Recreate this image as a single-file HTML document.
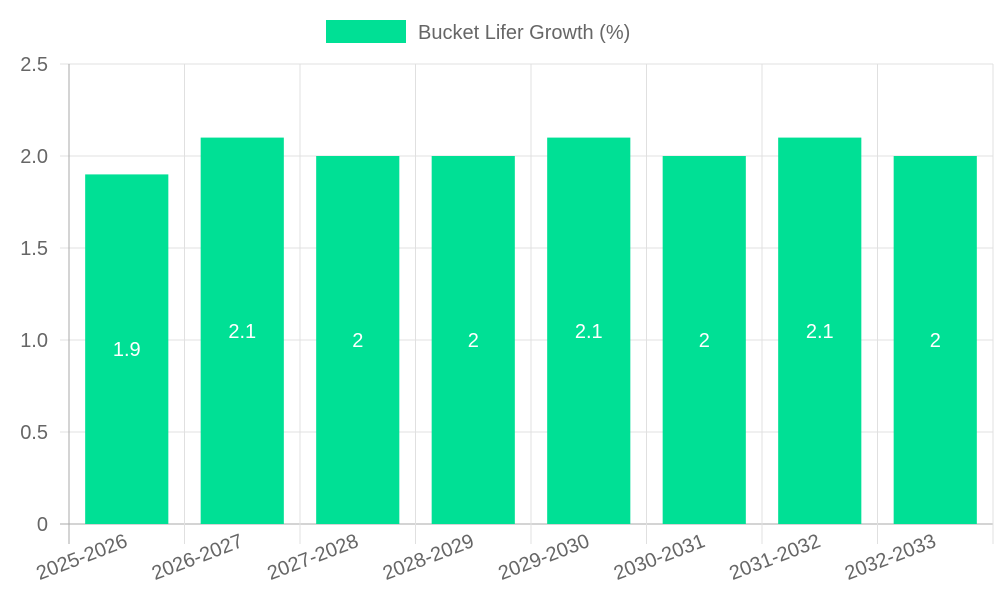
<!DOCTYPE html>
<html><head><meta charset="utf-8"><style>
body{margin:0;background:#fff;}
svg{display:block;font-family:"Liberation Sans",sans-serif;}
</style></head><body>
<svg id="chart" width="1000" height="600" viewBox="0 0 1000 600">
<g>
<rect x="326" y="20" width="80" height="23" fill="#00e095"/>
<text x="418" y="39" font-size="20" fill="#666">Bucket Lifer Growth (%)</text>
</g>
<g id="grid"></g><g id="bars"></g><g id="labels"></g>
</svg>
<script>
const categories=["2025-2026","2026-2027","2027-2028","2028-2029","2029-2030","2030-2031","2031-2032","2032-2033"];
const values=[1.9,2.1,2,2,2.1,2,2.1,2];
const yTicks=[0,0.5,1.0,1.5,2.0,2.5];
const yTickLabels=["0","0.5","1.0","1.5","2.0","2.5"];
const NS="http://www.w3.org/2000/svg";
const L=69,R=993,T=64,B=524,yMax=2.5;
const bw=(R-L)/categories.length;
const y=v=>B-(v/yMax)*(B-T);
const x=i=>L+bw*i;
function mk(tag,attrs,parent){const e=document.createElementNS(NS,tag);for(const k in attrs)e.setAttribute(k,attrs[k]);parent.appendChild(e);return e;}
const grid=document.getElementById('grid'),bars=document.getElementById('bars'),labels=document.getElementById('labels');
yTicks.forEach((t,i)=>{
 const ln=mk('line',{x1:60,x2:R,y1:y(t),y2:y(t),stroke:i==0?'#aaa':'#e0e0e0','stroke-width':1},grid);
 
 
 const tx=mk('text',{x:48,y:y(t)+7,'text-anchor':'end','font-size':20,fill:'#666'},grid);
 tx.textContent=yTickLabels[i];
 
 
});
for(let i=0;i<=categories.length;i++){
 const ln=mk('line',{x1:x(i),x2:x(i),y1:T,y2:544,stroke:i==0?'#aaa':'#e0e0e0','stroke-width':1},grid);
 
 
}
categories.forEach((c,i)=>{
 const cx=x(i)+bw/2,w=bw*0.72;
 const r=mk('rect',{x:cx-w/2,y:y(values[i]),width:w,height:B-y(values[i]),fill:'#00e095'},bars);
 
 
 const v=mk('text',{x:cx,y:(y(values[i])+B)/2+7,'text-anchor':'middle','font-size':20,fill:'#fff'},labels);
 v.textContent=String(values[i]);
 
 
 const t=mk('text',{x:cx+2,y:546,'text-anchor':'end','font-size':20,fill:'#666',transform:`rotate(-21 ${cx+2} 546)`},labels);
 t.textContent=c;
 
 
});
</script>
</body></html>
